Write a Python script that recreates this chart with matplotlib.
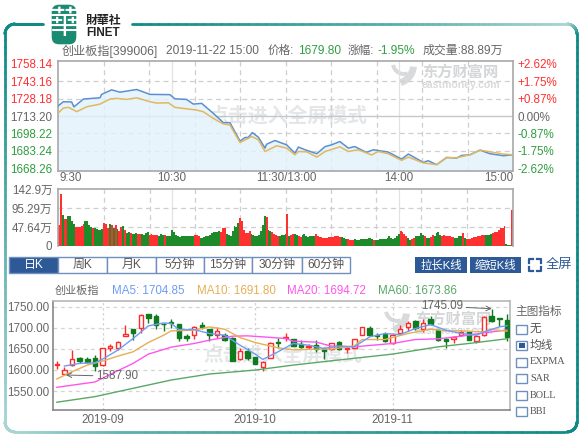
import numpy as np
import matplotlib
matplotlib.use('Agg')
import matplotlib.pyplot as plt
from matplotlib.collections import LineCollection
from matplotlib.colors import to_rgb
from matplotlib.patches import FancyBboxPatch, Rectangle, Wedge

plt.rcParams['font.family'] = ['Liberation Sans', 'Noto Sans CJK SC', 'DejaVu Sans']

W, H = 583, 438

# intraday price, minutes after the open
PRICE_T = [0, 2.8, 7.2, 8.4, 13.4, 22.2, 23, 28.3, 32.7, 41.5, 48.5, 59, 61.7, 67.8, 71.4, 75.8, 81.9, 87.2,
           90.7, 96, 98.6, 100.4, 102.5, 105.7, 109.2, 110, 114.4, 120.6, 125, 126.8, 130.3, 136.5, 140.9,
           144.3, 148.7, 153.1, 156.6, 162.7, 166.3, 174.2, 181.2, 184.8, 192.7, 195.3, 199.7, 205, 210.3,
           212.9, 217.3, 222.6, 227.8, 234.9, 240]
PRICE = [1721.7, 1725.4, 1725.2, 1721, 1727.7, 1728.8, 1731.7, 1735.6, 1733.6, 1735.9, 1731.7, 1731.5, 1727.9,
         1727.4, 1723.4, 1724, 1715.5, 1707.5, 1707.5, 1691.7, 1694.7, 1694.9, 1699, 1695, 1685.7, 1689,
         1692.2, 1688.5, 1681.4, 1686.6, 1684.3, 1680.9, 1687, 1688.5, 1691.3, 1685.7, 1687, 1682, 1684.3,
         1682.3, 1676.3, 1680.6, 1673.5, 1674.9, 1671.5, 1677.7, 1677.2, 1679.4, 1680, 1684, 1680.9, 1679.2,
         1680]
AVG_T = [0, 2.8, 5.6, 9.9, 15.1, 22.2, 27.4, 30.9, 36.2, 41.5, 48.5, 52, 58.2, 61.7, 73.1, 76.6, 81.9, 87.2,
         90.7, 96, 102.2, 105.7, 109.2, 115.3, 120.6, 125, 126.8, 131.2, 136.5, 140.9, 148.7, 153.1, 158.4,
         165.4, 168.9, 174.2, 181.2, 184.8, 192.7, 199.7, 205, 210.3, 217.3, 222.6, 234.9, 240]
AVG = [1715.5, 1720, 1720.6, 1716.9, 1721.1, 1723.4, 1727.7, 1728.3, 1727.4, 1728.8, 1725.4, 1724.3, 1724.5,
       1720.6, 1718.3, 1716.9, 1711.2, 1706.4, 1705.5, 1690.5, 1695.6, 1692.8, 1682.8, 1687.7, 1685.7, 1680,
       1682.8, 1682.5, 1678, 1682.8, 1686.8, 1682.8, 1684.3, 1679.8, 1682.8, 1680.9, 1675.2, 1678, 1673,
       1671.5, 1677.5, 1677.5, 1680, 1684, 1680.6, 1680]
PRICE_TICKS = [1758.14, 1743.16, 1728.18, 1713.20, 1698.22, 1683.24, 1668.26]
PCT_LABELS = ['+2.62%', '+1.75%', '+0.87%', '0.00%', '-0.87%', '-1.75%', '-2.62%']

# volume per minute, in 万
VOL = [52, 131, 78, 68, 68, 75, 75, 62, 55, 48,
       48, 48, 50, 55, 62, 62, 52, 48, 46, 44,
       42, 40, 40, 42, 58, 54, 46, 56, 52, 45,
       52, 42, 38, 48, 50, 40, 33, 34, 33, 31,
       30, 32, 30, 30, 30, 28, 32, 34, 28, 30,
       27, 27, 28, 26, 30, 27, 28, 26, 26, 26,
       40, 36, 28, 24, 22, 25, 24, 24, 24, 24,
       25, 25, 27, 28, 25, 20, 20, 22, 24, 26,
       28, 32, 34, 36, 36, 38, 34, 44, 44, 30,
       28, 26, 38, 50, 48, 58, 70, 62, 40, 33,
       32, 38, 30, 28, 24, 24, 28, 38, 52, 76,
       72, 40, 38, 36, 30, 28, 26, 26, 28, 28,
       30, 79, 24, 28, 30, 30, 28, 25, 22, 28,
       30, 24, 22, 24, 24, 26, 30, 24, 22, 22,
       20, 20, 20, 22, 22, 22, 24, 26, 26, 22,
       22, 20, 18, 18, 16, 16, 16, 18, 16, 16,
       17, 17, 18, 18, 20, 20, 18, 14, 16, 16,
       18, 18, 18, 17, 20, 24, 20, 18, 20, 26,
       30, 38, 36, 30, 24, 20, 16, 18, 20, 24,
       26, 24, 32, 28, 24, 20, 20, 22, 28, 24,
       32, 36, 28, 26, 28, 24, 24, 24, 22, 22,
       20, 20, 24, 24, 32, 20, 18, 18, 18, 20,
       22, 22, 24, 26, 28, 28, 28, 28, 28, 30,
       32, 34, 36, 40, 44, 46, 50, 4, 3, 2, 89]
VOL_DIR = ('rrgrrggggr' 'rrrrggggrg' 'ggggrrrgrg' 'rgrrgrggrg' 'ggrrggggrr' 'rrrgggrggg' 'gggggggggg'
           'ggrrrggggg' 'ggggggrrrg' 'ggggggrrrr' 'rrgggggggg' 'rggrrrrggg' 'grgrrggrrg' 'ggggggrrrr'
           'rrrrrrrrrr' 'gggrrrrggg' 'gggggggrgg' 'gggggggggg' 'grrrrggrrg' 'ggggrggrrg' 'gggrrrrrrr'
           'ggggrgrrrr' 'rrrrrrgggg' 'rrrrrrrgggr')
VOL_TICKS = [0, 47.64, 95.29, 142.9]
VOL_LABELS = ['0', '47.64万', '95.29万', '142.9万']

# daily candles
OPEN = [1610.7, 1590, 1610.7, 1628.8, 1624.9, 1628.8, 1611.5, 1652.4, 1652.4, 1680.8,
        1696.5, 1699.7, 1731.9, 1728.8, 1709.9, 1714.6, 1709.1, 1681.6, 1683.1, 1707.5,
        1696.5, 1682.3, 1683.9, 1675.3, 1625.7, 1645.4, 1629.6, 1607.6, 1628.8, 1665.8,
        1676, 1672.9, 1661.1, 1654.8, 1658.7, 1649.3, 1649.3, 1666.6, 1649.3, 1652.4,
        1683.1, 1700.4, 1682.3, 1686.3, 1664.2, 1687.9, 1702, 1717, 1696.5, 1721.7,
        1694.9, 1674.5, 1672.9, 1682.3, 1689.4, 1668.2, 1683.1, 1728.8, 1722.5, 1719.3]
CLOSE = [1613.9, 1598.9, 1626.5, 1621, 1619.4, 1609.2, 1650.9, 1657.2, 1666.6, 1686.3,
         1688.6, 1730.4, 1722.5, 1707.5, 1709.1, 1712.3, 1676.8, 1675.3, 1702.8, 1702.8,
         1683.9, 1692.6, 1670.6, 1621.7, 1645.4, 1627.3, 1613.9, 1619.4, 1665, 1665,
         1678.4, 1657.2, 1654.8, 1655.6, 1650.1, 1645.4, 1664.2, 1649.3, 1650.9, 1673.7,
         1702, 1683.9, 1681.6, 1668.2, 1683.1, 1698.1, 1710.7, 1698.9, 1712.3, 1708.3,
         1670.6, 1668.2, 1678.4, 1690.2, 1672.1, 1680, 1725.6, 1716.2, 1721.7, 1678.4]
HIGH = [1621, 1607.6, 1646.9, 1631.2, 1631.2, 1634.3, 1651.7, 1660.3, 1668.2, 1707.5,
        1698.1, 1733.5, 1731.9, 1733.5, 1711.5, 1721.7, 1709.9, 1686.3, 1705.2, 1713.8,
        1698.1, 1702, 1687.9, 1678.4, 1650.9, 1650.9, 1631.2, 1621, 1665.8, 1676,
        1688.6, 1674.5, 1670.6, 1661.1, 1672.1, 1654.8, 1665, 1669, 1654.8, 1674.5,
        1702.8, 1703.6, 1687.9, 1690.2, 1684.7, 1706, 1715.4, 1717.8, 1721.7, 1728.8,
        1698.1, 1676.8, 1680.8, 1695.7, 1692.6, 1681.6, 1728, 1745.09, 1723.3, 1733.5]
LOW = [1602.1, 1587.9, 1609.2, 1617, 1615.5, 1598.1, 1609.2, 1645.4, 1646.9, 1680,
       1672.1, 1688.6, 1712.3, 1696.5, 1692.6, 1699.7, 1668.2, 1667.4, 1672.9, 1696.5,
       1669, 1676.8, 1669, 1621, 1623.3, 1623.3, 1613.1, 1598.1, 1627.3, 1652.4,
       1668.2, 1655.6, 1650.9, 1649.3, 1643, 1625.7, 1646.9, 1646.9, 1639.1, 1650.9,
       1682.3, 1682.3, 1670.6, 1666.6, 1661.1, 1684.7, 1692.6, 1694.2, 1690.2, 1706,
       1669, 1652.4, 1664.2, 1680.8, 1670.6, 1662.7, 1681.6, 1713.8, 1704.4, 1668.2]

MA5_I = [1, 3, 5, 6, 8, 10, 12, 14, 15, 16, 18, 20, 22, 24, 26, 27, 29, 31, 33, 35, 37, 39, 41, 43, 45, 47, 49, 51, 53, 55, 56, 58, 59]
MA5 = [1609.2, 1615.5, 1617, 1625.7, 1646.9, 1674.5, 1704.4, 1711.5, 1709.9, 1695.7, 1695.7, 1686.3, 1682.3,
       1658.7, 1637.5, 1624.9, 1643, 1662.7, 1658.7, 1650.9, 1656.4, 1654.8, 1678.4, 1686.3, 1683.9, 1698.1,
       1707.5, 1694.2, 1686.3, 1682.3, 1690.2, 1702, 1704.85]
MA10_I = [0, 2, 4, 6, 8, 10, 12, 14, 15, 18, 20, 22, 24, 26, 29, 31, 34, 36, 39, 40, 43, 46, 49, 51, 53, 56, 57, 59]
MA10 = [1578.5, 1595.8, 1611.5, 1621, 1632.8, 1643, 1665, 1682.3, 1692.6, 1694.2, 1702, 1696.5, 1676.8, 1665,
        1652.4, 1647.5, 1649.3, 1649.3, 1657.2, 1672.1, 1672.1, 1686.3, 1696.5, 1692.6, 1692.6, 1690.2, 1695.7,
        1691.8]
MA20_I = [0, 5, 7, 10, 12, 15, 18, 20, 23, 25, 27, 30, 31, 34, 36, 39, 44, 47, 50, 53, 56, 59]
MA20 = [1558.8, 1571.4, 1589.5, 1615.5, 1637.5, 1654, 1662.7, 1670.6, 1680, 1680.8, 1678.4, 1674.5, 1668.2,
        1665.8, 1656.4, 1654.8, 1662.7, 1672.1, 1673.7, 1680, 1687.9, 1694.72]
MA60_I = [0, 5, 10, 15, 20, 26, 31, 36, 44, 50, 54, 59]
MA60 = [1523.4, 1536.7, 1556.4, 1576.1, 1590.3, 1599.7, 1611.5, 1621.7, 1637.5, 1654.8, 1662.7, 1673.86]
K_TICKS = [1550, 1600, 1650, 1700, 1750]
MONTH_POS = [6, 26, 44]
MONTHS = ['2019-09', '2019-10', '2019-11']

TABS = ['日K', '周K', '月K', '5分钟', '15分钟', '30分钟', '60分钟']
TAB_EDGES = [9, 58, 107, 156, 204, 252, 302, 350]
INDICATORS = ['无', '均线', 'EXPMA', 'SAR', 'BOLL', 'BBI']

RED = '#ff3030'
GREEN = '#2f9e3f'
GRAY = '#666666'
NAVY = '#2d5a96'
TEAL = '#0f8a85'
WATER = '#e4e6e8'
FS = 8.4

fig = plt.figure(figsize=(W / 100, H / 100), dpi=100, facecolor='white')


def axes_at(x0, y0, x1, y1):
    ax = fig.add_axes([x0 / W, 1 - y1 / H, (x1 - x0) / W, (y1 - y0) / H], facecolor='none', zorder=2)
    for s in ax.spines.values():
        s.set_color('#a8a8a8')
        s.set_linewidth(1.2)
    return ax


bg = fig.add_axes([0, 0, 1, 1], zorder=0)
bg.set_xlim(0, W)
bg.set_ylim(H, 0)
bg.axis('off')


def txt(x, y, s, color=GRAY, size=FS, ha='left', **kw):
    bg.text(x, y, s, color=color, fontsize=size, ha=ha, va='center', **kw)


def frame_line(xs, ys, c0, c1):
    # one side of the outer frame, colour fading along it
    xs = np.array(xs, float)
    ys = np.array(ys, float)
    n = 60
    tt = np.linspace(0, 1, n + 1)
    px = np.interp(tt, np.linspace(0, 1, len(xs)), xs)
    py = np.interp(tt, np.linspace(0, 1, len(ys)), ys)
    segs = [[(px[i], py[i]), (px[i + 1], py[i + 1])] for i in range(n)]
    a, b = np.array(to_rgb(c0)), np.array(to_rgb(c1))
    cols = [a + (b - a) * t for t in tt[:-1]]
    bg.add_collection(LineCollection(segs, colors=cols, linewidths=2, capstyle='round'))


def arc(cx, cy, r, a0, a1):
    t = np.radians(np.linspace(a0, a1, 12))
    return cx + r * np.cos(t), cy + r * np.sin(t)


LIGHT = '#a8d5d2'
frame_line([43, 15], [24, 24], TEAL, TEAL)
x_, y_ = arc(15, 34, 10, 270, 180)
frame_line(x_, y_, TEAL, TEAL)
frame_line([5, 5], [34, 422], TEAL, LIGHT)
x_, y_ = arc(15, 422, 10, 180, 90)
frame_line(x_, y_, LIGHT, LIGHT)
frame_line([15, 130, 565], [432, 432, 432], LIGHT, TEAL)
x_, y_ = arc(567, 422, 10, 90, 0)
frame_line(x_, y_, TEAL, TEAL)
frame_line([577, 577], [422, 34], TEAL, TEAL)
x_, y_ = arc(567, 34, 10, 0, -90)
frame_line(x_, y_, TEAL, LIGHT)
frame_line([567, 400, 132], [24, 24, 24], LIGHT, TEAL)

# logo
bg.add_patch(FancyBboxPatch((51, 4), 26, 41, boxstyle='round,pad=0,rounding_size=8', fc='#1a8a70', ec='white', lw=1,
                            zorder=3))
bg.text(64, 24.5, '華', color='white', fontsize=23, ha='center', va='center', family=['Noto Sans CJK TC'], zorder=4)
txt(86, 20, '財華社', color='#222222', size=8.6, family=['Noto Sans CJK TC'], fontweight='bold')
txt(86, 33, 'FINET', color='#222222', size=8.4, fontweight='bold')

# header line
txt(62, 51, '创业板指[399006]', size=8.7)
txt(166, 51, '2019-11-22 15:00', size=8.6)
txt(268, 51, '价格:')
txt(298, 51, '1679.80', color=GREEN, size=8.6)
txt(348, 51, '涨幅:')
txt(377, 51, '-1.95%', color=GREEN, size=8.6)
txt(423, 51, '成交量:88.89万', size=8.6)


def watermark(x, y):
    # eastmoney swoosh and wordmark behind the plots
    bg.add_patch(Wedge((x - 10, y - 8), 22, 5, 72, width=7, fc='#d8dadc', ec='none'))
    bg.add_patch(Wedge((x - 1, y - 10), 13, 70, 170, width=4, fc='#d8dadc', ec='none'))
    txt(x + 17, y - 1, '东方财富网', color='#d4d6d8', size=11, fontweight='bold')
    txt(x + 17, y + 11.5, 'eastmoney.com', color='#d8dadc', size=7.6, fontweight='bold')


watermark(405, 73)
watermark(398, 320)
txt(208, 116, '点击进入全屏模式', color=WATER, size=14.3, fontweight='bold')
txt(203, 355, '点击进入全屏模式', color=WATER, size=14.3, fontweight='bold')

# intraday panel
ax1 = axes_at(58, 61, 513, 171)
ax1.set_xlim(0, 240)
ax1.set_ylim(1666.1, 1760.3)
t_grid = np.arange(24, 240, 24)
for t in t_grid:
    ax1.axvline(t, color='#cfcfcf', lw=0.9, ls=(0, (4, 3)), zorder=1)
for t in [60, 180]:
    ax1.axvline(t, color='#e2e2e2', lw=0.9, zorder=1)
for v in PRICE_TICKS[1:-1]:
    if v == 1713.20:
        ax1.axhline(v, color='#c4c8cc', lw=1, zorder=1)
    else:
        ax1.axhline(v, color='#cfcfcf', lw=0.9, ls=(0, (4, 3)), zorder=1)
ax1.fill_between(PRICE_T, PRICE, 1666.1, color='#e3f2fb', alpha=0.8, lw=0, zorder=1.5)
ax1.plot(PRICE_T, PRICE, color='#5b8fd0', lw=1.1, zorder=3)
ax1.plot(AVG_T, AVG, color='#e0b860', lw=1.1, zorder=3)
ax1.set_xticks([])
ax1.set_yticks(PRICE_TICKS)
ax1.set_yticklabels(['%.2f' % v for v in PRICE_TICKS], fontsize=FS)
ax1.tick_params(axis='y', length=0, pad=4)
for lab, col in zip(ax1.get_yticklabels(), [RED] * 3 + [GRAY] + [GREEN] * 3):
    lab.set_color(col)
ax1r = ax1.twinx()
ax1r.set_zorder(2)
ax1r.set_ylim(ax1.get_ylim())
ax1r.set_yticks(PRICE_TICKS)
ax1r.set_yticklabels(PCT_LABELS, fontsize=FS)
ax1r.tick_params(axis='y', length=0, pad=3)
for s in ax1r.spines.values():
    s.set_visible(False)
for lab, col in zip(ax1r.get_yticklabels(), [RED] * 3 + [GRAY] + [GREEN] * 3):
    lab.set_color(col)

txt(59, 178, '9:30')
txt(172, 178, '10:30', ha='center')
txt(286, 178, '11:30/13:00', ha='center')
txt(399, 178, '14:00', ha='center')
txt(513, 178, '15:00', ha='right')

# volume panel
ax2 = axes_at(58, 189, 513, 246)
ax2.set_xlim(-0.5, 240.5)
ax2.set_ylim(0, 142.9)
for t in t_grid:
    ax2.axvline(t, color='#cfcfcf', lw=0.9, ls=(0, (4, 3)), zorder=1)
for t in [60, 180]:
    ax2.axvline(t, color='#e2e2e2', lw=0.9, zorder=1)
for v in VOL_TICKS[1:3]:
    ax2.axhline(v, color='#cfcfcf', lw=0.9, ls=(0, (4, 3)), zorder=1)
assert len(VOL) == 241 and len(VOL_DIR) == 241
ax2.bar(np.arange(241), VOL, width=1.0, color=[RED if d == 'r' else '#1f8a2a' for d in VOL_DIR], lw=0, zorder=2)
ax2.set_xticks([])
ax2.set_yticks(VOL_TICKS)
ax2.set_yticklabels(VOL_LABELS, fontsize=FS, color=GRAY)
ax2.tick_params(axis='y', length=0, pad=4)
ax2.spines['bottom'].set_visible(False)

# tabs and buttons
for i, name in enumerate(TABS):
    x0, x1 = TAB_EDGES[i], TAB_EDGES[i + 1]
    sel = i == 0
    bg.add_patch(Rectangle((x0, 257), x1 - x0, 15.5, fc=NAVY if sel else 'white', ec='#6f8fbd', lw=1))
    txt((x0 + x1) / 2, 265, name, color='white' if sel else '#555555', size=8.6, ha='center')
for x0, x1, name in [(415, 467, '拉长K线'), (470, 521, '缩短K线')]:
    bg.add_patch(Rectangle((x0, 257), x1 - x0, 15.5, fc=NAVY, ec='none'))
    txt((x0 + x1) / 2, 265, name, color='white', size=8.2, ha='center')
for cx, cy, sx, sy in [(529, 259, 1, 1), (541, 259, -1, 1), (529, 271, 1, -1), (541, 271, -1, -1)]:
    bg.plot([cx + 4 * sx, cx, cx], [cy, cy, cy + 4 * sy], color=NAVY, lw=1.6)
txt(546, 264.5, '全屏', color=NAVY, size=9.5)

# K line legend
txt(55, 291, '创业板指', size=8)
txt(112, 291, 'MA5: 1704.85', color='#6f9cf5', size=8.4)
txt(197, 291, 'MA10: 1691.80', color='#e6ae55', size=8.4)
txt(287, 291, 'MA20: 1694.72', color='#ff55ee', size=8.4)
txt(378, 291, 'MA60: 1673.86', color='#5aa866', size=8.4)

# K line panel
ax3 = axes_at(53, 301, 510, 410)
ax3.set_xlim(-0.5, 59.4)
ax3.set_ylim(1505, 1763.4)
for v in K_TICKS:
    ax3.axhline(v, color='#d4d4d4', lw=0.9, ls=(0, (3, 3)), zorder=1)
for i in MONTH_POS:
    ax3.axvline(i, color='#d4d4d4', lw=0.9, ls=(0, (2, 2)), zorder=1)
for i, (o, h, l, c) in enumerate(zip(OPEN, HIGH, LOW, CLOSE)):
    up = c > o
    col = '#ff2a2a' if up else '#0f7a1e'
    ax3.vlines(i, l, h, color=col, lw=1, zorder=3)
    ax3.bar(i, max(abs(c - o), 0.8), bottom=min(o, c), width=0.58, fc='white' if up else col, ec=col, lw=1, zorder=4)
ax3.plot(MA60_I, MA60, color='#5aa866', lw=1, zorder=5)
ax3.plot(MA20_I, MA20, color='#ff55ee', lw=1, zorder=5)
ax3.plot(MA10_I, MA10, color='#e6ae55', lw=1, zorder=5)
ax3.plot(MA5_I, MA5, color='#6f9cf5', lw=1, zorder=5)
ax3.annotate('1587.90', xy=(1.2, 1587.9), xytext=(5.1, 1585), fontsize=FS, color=GRAY, va='center', zorder=6,
             arrowprops=dict(arrowstyle='->', color=GRAY, lw=0.7, shrinkA=0, shrinkB=0))
ax3.annotate('1745.09', xy=(57, 1745.09), xytext=(47.8, 1751), fontsize=FS, color=GRAY, va='center', zorder=6,
             arrowprops=dict(arrowstyle='->', color=GRAY, lw=0.7, shrinkA=0, shrinkB=0))
ax3.set_xticks(MONTH_POS)
ax3.set_xticklabels(MONTHS, fontsize=FS, color=GRAY)
ax3.set_yticks(K_TICKS)
ax3.set_yticklabels(['%.2f' % v for v in K_TICKS], fontsize=FS, color=GRAY)
ax3.tick_params(length=0, pad=3)
ax3.spines['top'].set_color('#b8b8b8')
ax3.spines['right'].set_color('#b8b8b8')
ax3.spines['left'].set_color('#888888')
ax3.spines['bottom'].set_color('#888888')

# indicator list
txt(515, 312, '主图指标', size=8.4)
for i, name in enumerate(INDICATORS):
    y = 329 + i * 16.5
    bg.add_patch(Rectangle((516, y - 4.5), 11, 9, fc='white', ec='#6f8fbd', lw=1))
    if i == 1:
        bg.add_patch(Rectangle((518.5, y - 2.5), 6, 5, fc=NAVY, ec='none'))
    txt(530, y, name, color='#555555', size=7.4 if i > 1 else 8.4,
        family=['Liberation Serif', 'Noto Sans CJK SC'])

fig.savefig('out.png', dpi=100)
